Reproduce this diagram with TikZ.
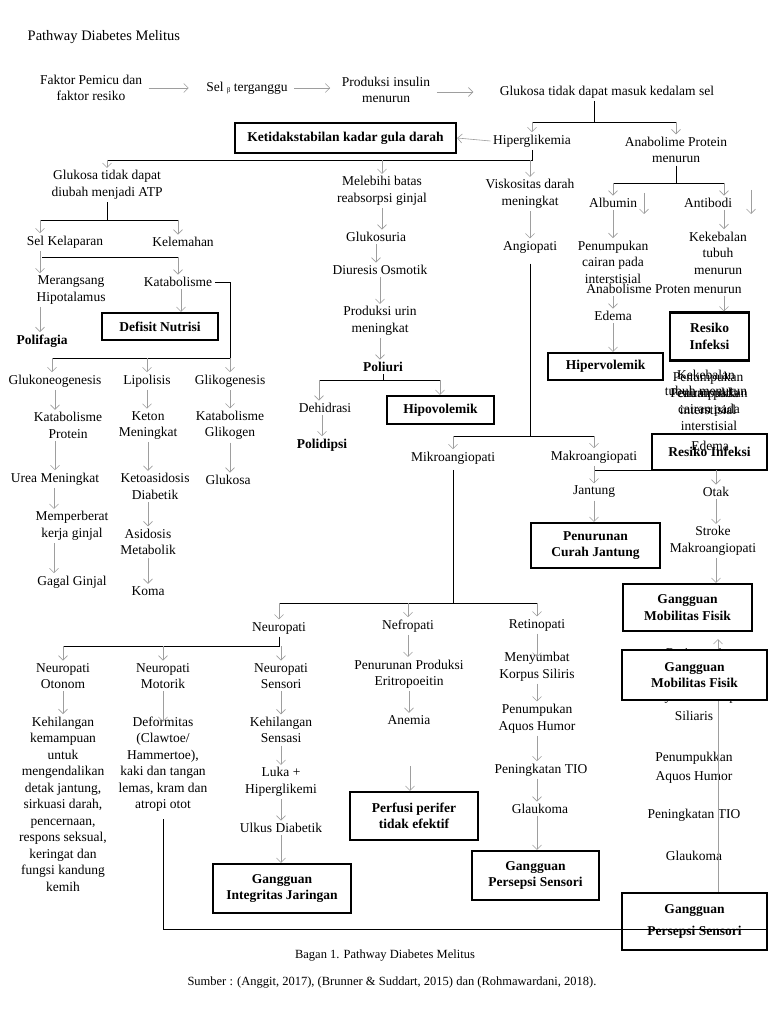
\documentclass[tikz,border=0pt]{standalone}
\usepackage{fontspec}
\setmainfont{Liberation Serif}
\usetikzlibrary{arrows.meta}
\newcommand{\fs}{\fontsize{13.5}{16.5}\selectfont}
\begin{document}
\begin{tikzpicture}[x=1pt,y=-1pt,
  txt/.style={align=center,font=\fs,inner sep=2.5pt},
  bt/.style={font=\fs\bfseries,inner sep=2.5pt},
  bx/.style={draw,line width=2.2pt,align=center,font=\fs\bfseries,inner sep=2pt},
  arr/.style={draw=black!38,line width=0.6pt,-{Straight Barb[length=4.5pt,width=9pt]}},
  ln/.style={draw=black,line width=0.9pt}]
\useasboundingbox (0,0) rectangle (768,1024);
\fill[white] (0,0) rectangle (768,1024);

% title
\node[txt,anchor=west,font=\fontsize{14.5}{17}\selectfont] (title) at (25,37) {Pathway Diabetes Melitus};

% row 1
\node[txt] (fak) at (91,88) {Faktor Pemicu dan\\faktor resiko};
\node[txt] (sel) at (247,88) {Sel \raisebox{-1.5pt}{\fontsize{7}{7}\selectfont β} terganggu};
\node[txt] (pro) at (386,90) {Produksi insulin\\menurun};
\node[txt] (gms) at (607,92) {Glukosa tidak dapat masuk kedalam sel};
\draw[arr,shorten <=4pt,shorten >=15pt] (fak.east|-sel) -- (sel.west);
\draw[arr,shorten <=4pt,shorten >=9pt] (sel.east) -- (pro.west|-sel.east);
\draw[arr,shorten <=4pt,shorten >=24pt] (pro.east|-gms) -- (gms.west);

\node[bx,minimum width=221,minimum height=30] (ket) at (345.5,138) {Ketidakstabilan kadar gula darah};
\node[txt] (hip) at (532,141) {Hiperglikemia};
\node[txt] (anab) at (676,150) {Anabolime Protein\\menurun};
\coordinate (b1) at (594,122);
\draw[ln] (gms.south-|b1) -- (b1);
\draw[ln] (hip.north|-b1) -- (anab.north|-b1);
\draw[arr] (hip.north|-b1) -- (hip.north);
\draw[arr] (anab.north|-b1) -- (anab.north);
\draw[arr] (hip.west) -- (ket.east);

% second level
\coordinate (b2) at (531,160);
\node[txt] (glt) at (107,185) {Glukosa tidak dapat\\diubah menjadi ATP};
\node[txt] (meb) at (382,191) {Melebihi batas\\reabsorpsi ginjal};
\node[txt] (vis) at (530,194) {Viskositas darah\\meningkat};
\draw[ln] (hip.south) -- (hip.south|-b2) -- (glt.north|-b2);
\draw[arr] (glt.north|-b2) -- (glt.north);
\draw[arr] (meb.north|-b2) -- (meb.north);
\draw[arr] (vis.north|-b2) -- (vis.north);

% anabolime branch
\coordinate (b3) at (676,183);
\coordinate (b3r) at (724,183);
\node[txt] (alb) at (613,203) {Albumin};
\node[txt] (anti) at (708,203) {Antibodi};
\draw[ln] (anab.south) -- (b3);
\draw[ln] (alb.north|-b3) -- (b3r);
\draw[arr] (alb.north|-b3) -- (alb.north);
\draw[arr] (b3r) -- (b3r|-anti.north);
\coordinate (s1) at (644,193); \coordinate (s1e) at (644,214);
\draw[arr] (s1) -- (s1e);
\coordinate (s2) at (751,190); \coordinate (s2e) at (751,214);
\draw[arr] (s2) -- (s2e);

\node[txt] (pen) at (613,262) {Penumpukan\\cairan pada\\interstisial};
\draw[arr] (alb) -- (pen);
\node[txt] (anp) at (664,289) {Anabolisme Proten menurun};
\node[txt] (ede) at (613,316) {Edema};
\draw[arr] (anp.south-|ede) -- (ede.north);
\node[bx,minimum width=115,minimum height=27] (hvr) at (605.5,366.5) {Hipervolemik};
\draw[arr] (ede.south) -- (ede.south|-hvr.north);

\node[txt] (keb) at (718,253) {Kekebalan\\tubuh\\menurun};
\draw[arr] (b3r|-anti.south) -- (b3r|-keb.north);
\node[bx,minimum width=79,minimum height=48] (ri1) at (709.5,336.5) {Resiko\\Infeksi};
\draw[arr] (b3r|-anp.south) -- (b3r|-ri1.north);

% overlapping texts (as in the reference)
\node[txt] (kk2) at (706,383) {Kekebalan\\tubuh menurun};
\node[txt] (pn2) at (708,393) {Penumpukan\\cairan pada\\interstisial};
\node[txt] (pn3) at (709,409) {Penumpukkan\\cairan pada\\interstisial};
\node[txt] (ed2) at (710,446) {Edema};
\node[bx,minimum width=115,minimum height=36] (ri2) at (709.5,452) {Resiko Infeksi};

% middle column
\node[txt] (glu) at (376,237) {Glukosuria};
\node[txt] (diu) at (380,270) {Diuresis Osmotik};
\node[txt] (pu) at (380,321) {Produksi urin\\meningkat};
\node[bt] (pol) at (383,367) {Poliuri};
\draw[arr] (meb.south) -- (meb.south|-glu.north);
\draw[arr] (glu.south) -- (glu.south|-diu.north);
\draw[arr] (diu.south) -- (diu.south|-pu.north);
\draw[arr] (pu.south) -- (pu.south|-pol.north);
\coordinate (b4) at (383,380);
\coordinate (b4l) at (319,380);
\coordinate (b4r) at (440,380);
\node[txt] (deh) at (325,408) {Dehidrasi};
\node[bt] (pld) at (322,445) {Polidipsi};
\node[bx,minimum width=107,minimum height=28] (hpv) at (440.5,410) {Hipovolemik};
\draw[ln] (pol.south) -- (b4);
\draw[ln] (b4l) -- (b4r);
\draw[arr] (b4l) -- (b4l|-deh.north);
\draw[arr] (b4r) -- (b4r|-hpv.north);
\draw[arr] (pld.north|-deh.south) -- (pld.north);

% angiopati
\node[txt] (ang) at (530,247) {Angiopati};
\draw[arr] (vis.south) -- (vis.south|-ang.north);
\coordinate (b5) at (529,436);
\node[txt] (mik) at (453,458) {Mikroangiopati};
\node[txt] (mak) at (594,457) {Makroangiopati};
\draw[ln] (ang.south) ++(0,8) -- (ang.south|-b5);
\draw[ln] (mik.north|-b5) -- (mak.north|-b5);
\draw[arr] (mik.north|-b5) -- (mik.north);
\draw[arr] (mak.north|-b5) -- (mak.north);

% makro
\coordinate (b7) at (596,470);
\node[txt] (jan) at (594,492) {Jantung};
\node[txt] (otk) at (716,492) {Otak};
\draw[ln] (mak.south|-b7) -- (otk.north|-b7);
\draw[arr] (mak.south) -- (mak.south|-jan.north);
\draw[arr] (otk.north|-b7) -- (otk.north);
\node[bx,minimum width=129,minimum height=45] (pcj) at (595.5,545.5) {Penurunan\\Curah Jantung};
\draw[arr] (jan.south) -- (jan.south|-pcj.north);
\node[txt] (str) at (713,541) {Stroke\\Makroangiopati};
\draw[arr] (otk.south) -- (otk.south|-str.north);
\node[bx,minimum width=129,minimum height=47,fill=white] (mob1) at (687.5,607.5) {Gangguan\\Mobilitas Fisik};
\draw[arr] (otk|-str.south) -- (otk|-mob1.north);

% right column (repeated)
\node[txt] (ret2) at (694,654) {Retinopati};
\node[txt] (mks2) at (694,706) {Menyumbat Korpus\\[4pt]Siliaris};
\node[txt] (pah2) at (694,767.5) {Penumpukkan\\[3pt]Aquos Humor};
\node[txt] (tio2) at (694,815) {Peningkatan TIO};
\node[txt] (gla2) at (694,856) {Glaukoma};
\node[bx,minimum width=145,minimum height=57,fill=white] (ps2) at (694.5,921.5) {Gangguan\\[5pt]Persepsi Sensori};
\coordinate (upx) at (718,0);
\draw[arr,shorten >=7pt] (upx|-ps2.north) -- (upx|-mob1.south);
\node[bx,minimum width=145,minimum height=50,fill=white] (mob2) at (694.5,675) {Gangguan\\Mobilitas Fisik};

% mikro
\coordinate (b6) at (456,603);
\draw[ln] (mik.south) ++(0,3) -- (mik.south|-b6);
\node[txt] (neu) at (279,628) {Neuropati};
\node[txt] (nef) at (408,626) {Nefropati};
\node[txt] (ret) at (537,625) {Retinopati};
\draw[ln] (neu.north|-b6) -- (ret.north|-b6);
\draw[arr] (neu.north|-b6) -- (neu.north);
\draw[arr] (nef.north|-b6) -- (nef.north);
\draw[arr] (ret.north|-b6) -- (ret.north);

% neuropati
\coordinate (b9) at (282,646);
\node[txt] (no) at (63,676) {Neuropati\\Otonom};
\node[txt] (nm) at (163,676) {Neuropati\\Motorik};
\node[txt] (ns) at (281,676) {Neuropati\\Sensori};
\draw[ln] (neu.south) -- (neu.south|-b9) -- (no.north|-b9);
\draw[arr] (no.north|-b9) -- (no.north);
\draw[arr] (nm.north|-b9) -- (nm.north);
\draw[arr] (ns.north|-b9) -- (ns.north);
\node[txt] (keh) at (63,804) {Kehilangan\\kemampuan\\untuk\\mengendalikan\\detak jantung,\\sirkuasi darah,\\pencernaan,\\respons seksual,\\keringat dan\\fungsi kandung\\kemih};
\draw[arr] (no) -- (keh);
\node[txt] (def) at (163,764) {Deformitas\\(Clawtoe/\\Hammertoe),\\kaki dan tangan\\lemas, kram dan\\atropi otot};
\draw[arr] (nm.south) -- ([yshift=-8pt]nm.south|-def.north);
\node[txt] (ksn) at (281,730) {Kehilangan\\Sensasi};
\node[txt] (luk) at (281,782) {Luka +\\Hiperglikemi};
\node[txt] (ulk) at (281,828) {Ulkus Diabetik};
\node[bx,minimum width=138,minimum height=49] (git) at (282,888.5) {Gangguan\\Integritas Jaringan};
\draw[arr] (ns) -- (ksn);
\draw[arr] (ksn) -- (luk);
\draw[arr] (luk) -- (ulk);
\draw[arr] (ulk.south) -- (ulk.south|-git.north);

% nefropati
\node[txt] (ppe) at (409,674) {Penurunan Produksi\\Eritropoeitin};
\node[txt] (ane) at (409,720) {Anemia};
\node[bx,minimum width=128,minimum height=48] (pef) at (414,816) {Perfusi perifer\\tidak efektif};
\coordinate (pf0) at (410,766);
\draw[arr] (nef.south) -- (nef.south|-ppe.north);
\draw[arr] (ppe.south) -- (ppe.south|-ane.north);
\draw[arr] (pf0) -- (pf0|-pef.north);

% retinopati
\node[txt] (mks) at (537,666.5) {Menyumbat\\Korpus Siliris};
\node[txt] (pah) at (537,718.5) {Penumpukan\\Aquos Humor};
\node[txt] (tio) at (541,770) {Peningkatan TIO};
\node[txt] (gla) at (540,809) {Glaukoma};
\node[bx,minimum width=127,minimum height=49] (ps1) at (535.5,875.5) {Gangguan\\Persepsi Sensori};
\draw[arr] (ret.south) -- ([yshift=-8pt]ret.south|-mks.north);
\draw[arr] (mks.south) -- (mks.south|-pah.north);
\draw[arr] (pah.south) -- (pah.south|-tio.north);
\draw[arr] (pah.south|-tio.south) -- (pah.south|-gla.north);
\draw[arr] (pah.south|-gla.south) -- (pah.south|-ps1.north);

% left column
\node[txt] (sk) at (65,242) {Sel Kelaparan};
\node[txt] (kel) at (183,242) {Kelemahan};
\coordinate (b10) at (107,220);
\coordinate (b10l) at (40,220);
\coordinate (b10r) at (178,220);
\draw[ln] (glt.south) -- (b10);
\draw[ln] (b10l) -- (b10r);
\draw[arr] (b10l) -- (b10l|-sk.north);
\draw[arr] (b10r) -- (b10r|-kel.north);
\node[txt] (mh) at (71,290) {Merangsang\\Hipotalamus};
\node[txt] (kat) at (178,282) {Katabolisme};
\coordinate (b8) at (42,257);
\draw[arr] (b10l|-sk.south) -- (b10l|-mh.north);
\draw[ln] (b8) -- (kat.north|-b8);
\draw[arr] (kat.north|-b8) -- (kat.north);
\node[bt,anchor=west] (plf) at (14,341) {Polifagia};
\draw[arr] (b10l|-mh.south) -- (b10l|-plf.north);
\node[bx,minimum width=116,minimum height=27] (dnu) at (160,326.5) {Defisit Nutrisi};
\coordinate (kx) at (181,0);
\draw[arr] (kx|-kat.south) -- (kx|-dnu.north);
\coordinate (k1) at (230,358);
\coordinate (k2) at (52,358);
\draw[ln] (kat.east) -| (k1) -- (k2);
\node[txt] (gln) at (55,381) {Glukoneogenesis};
\node[txt] (lip) at (147,381) {Lipolisis};
\node[txt] (glk) at (230,381) {Glikogenesis};
\draw[arr] (k2) -- (k2|-gln.north);
\draw[arr] (lip.north|-k1) -- (lip.north);
\draw[arr] (glk.north|-k1) -- (glk.north);
\node[txt] (kpr) at (68,425.5) {Katabolisme\\Protein};
\node[txt] (ktn) at (148,425.5) {Keton\\Meningkat};
\node[txt] (kgl) at (230,425.5) {Katabolisme\\Glikogen};
\draw[arr] (gln.south) -- (gln.south|-kpr.north);
\draw[arr] (lip.south) -- (lip.south|-ktn.north);
\draw[arr] (glk.south) -- (glk.south|-kgl.north);
\node[txt] (ure) at (55,479) {Urea Meningkat};
\node[txt] (kts) at (155,486.5) {Ketoasidosis\\Diabetik};
\node[txt] (gks) at (228,480) {Glukosa};
\draw[arr] (gln.south|-kpr.south) -- (gln.south|-ure.north);
\draw[arr] (ktn.south) -- (ktn.south|-kts.north);
\draw[arr] (kgl.south) -- (kgl.south|-gks.north);
\node[txt] (mem) at (72,526) {Memperberat\\kerja ginjal};
\node[txt] (asi) at (148,542) {Asidosis\\Metabolik};
\node[txt] (gag) at (72,582) {Gagal Ginjal};
\node[txt] (kom) at (148,591) {Koma};
\coordinate (ux) at (54,0);
\draw[arr] (ux|-ure.south) -- (ux|-mem.north);
\draw[arr] (ux|-mem.south) -- (ux|-gag.north);
\draw[arr] (asi.north|-kts.south) -- (asi.north);
\draw[arr] (asi.south) -- (asi.south|-kom.north);

% bottom long line
\coordinate (lb) at (767,929);
\draw[ln] ([yshift=-5pt]def.south) |- (lb);

% caption
\node[txt,font=\fontsize{12.5}{15}\selectfont] (cap1) at (385,955) {Bagan 1. Pathway Diabetes Melitus};
\node[txt,font=\fontsize{12.5}{15}\selectfont] (cap2) at (392,982) {Sumber : (Anggit, 2017), (Brunner \& Suddart, 2015) dan (Rohmawardani, 2018).};
\end{tikzpicture}
\end{document}
